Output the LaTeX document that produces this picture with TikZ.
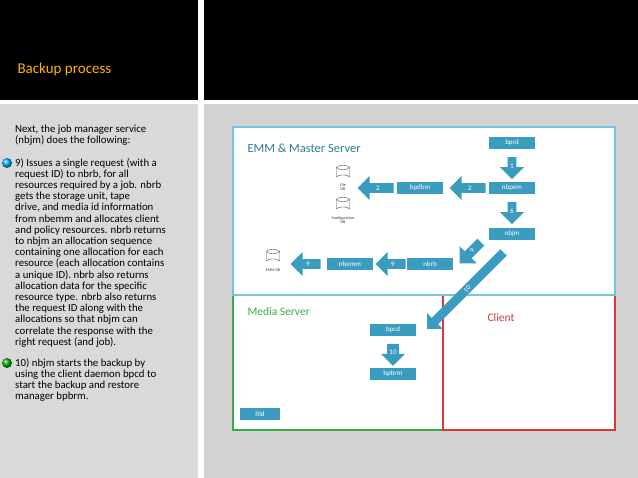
\documentclass[tikz,border=0pt]{standalone}
\usepackage{fontspec}
\setmainfont{Carlito}
\usetikzlibrary{shapes.arrows,shapes.geometric}
\definecolor{teal1}{HTML}{3A9DC0}
\definecolor{emmb}{HTML}{7CC3DC}
\definecolor{msg}{HTML}{3DAA48}
\definecolor{clr}{HTML}{D43A3A}
\newcommand{\dbcyl}[2]{%
 \fill[white] (#1-6.5,#2-4.5) rectangle (#1+6.5,#2+5);
 \draw[gray!60!black,line width=0.4] (#1-6.5,#2-4.5) -- (#1-6.5,#2+5) arc[start angle=180,end angle=360,x radius=6.5,y radius=2] -- (#1+6.5,#2-4.5);
 \draw[gray!60!black,fill=white,line width=0.4] (#1,#2-4.5) ellipse[x radius=6.5,y radius=2];}
\begin{document}
\begin{tikzpicture}[x=1pt,y=-1pt,
 proc/.style={fill=teal1,text=white,minimum width=46,minimum height=12,inner sep=0,font=\fontsize{7}{7}\selectfont},
 barrow/.style={single arrow,fill=teal1,text=white,minimum height=26,minimum width=24,single arrow head extend=5,inner sep=1,font=\fontsize{7}{7}\selectfont},
 dbl/.style={font=\fontsize{4}{4}\selectfont,align=center,text=gray!40!black},
 body/.style={font=\fontsize{10.8}{11.2}\selectfont,align=left,anchor=north west,inner sep=0}]
\useasboundingbox (0,0) rectangle (638,478);
\fill[black] (0,0) rectangle (638,100);
\fill[white] (198,0) rectangle (204,478);
\fill[white] (0,100) rectangle (638,104);
\fill[gray!30] (0,104) rectangle (198,478);
\fill[gray!35] (204,104) rectangle (638,478);
\node[anchor=west,text=orange!60!yellow,font=\fontsize{15}{15}\selectfont] (title) at (14,70) {Backup process};
\node[body] (t1) at (15,125) {Next, the job manager service\\(nbjm) does the following:};
\node[body] (t2) at (15,158) {9) Issues a single request (with a\\request ID) to nbrb, for all\\resources required by a job. nbrb\\gets the storage unit, tape\\drive, and media id information\\from nbemm and allocates client\\and policy resources. nbrb returns\\to nbjm an allocation sequence\\containing one allocation for each\\resource (each allocation contains\\a unique ID). nbrb also returns\\allocation data for the specific\\resource type. nbrb also returns\\the request ID along with the\\allocations so that nbjm can\\correlate the response with the\\right request (and job).};
\node[body] (t3) at (15,358) {10) nbjm starts the backup by\\using the client daemon bpcd to\\start the backup and restore\\manager bpbrm.};
\shade[ball color=cyan!70!blue] (7,163) circle (5);
\shade[ball color=green!70!black] (7,363) circle (5);
% boxes
\fill[white] (233,127) rectangle (615,430);
\draw[msg,line width=1.5] (233,295) rectangle (443,430);
\draw[clr,line width=1.5] (443,295) rectangle (615,430);
\draw[emmb,line width=2] (233,127) rectangle (615,295);
\node[anchor=west,text=teal1!80!black,font=\fontsize{12.5}{12}\selectfont] (emm) at (244,148) {EMM \& Master Server};
\node[anchor=west,text=msg,font=\fontsize{11.5}{11}\selectfont] (ms) at (244,312) {Media Server};
\node[anchor=west,text=clr,font=\fontsize{11.5}{11}\selectfont] (cl) at (484,318) {Client};
\node[proc] (bprd) at (512,143) {bprd};
\node[proc] (nbpem) at (512,188) {nbpem};
\node[proc] (nbjm) at (512,234) {nbjm};
\node[proc] (bpdbm) at (420,188) {bpdbm};
\node[proc] (nbrb) at (430,264) {nbrb};
\node[proc] (nbemm) at (350,264) {nbemm};
\node[proc] (bpcd) at (393,330) {bpcd};
\node[proc] (bpbrm) at (393,374) {bpbrm};
\node[proc,minimum width=40] (ltid) at (260,414) {ltid};
\dbcyl{343}{172}
\node[dbl] (fdbl) at (343,187) {File\\DB};
\dbcyl{343}{204}
\node[dbl] (cdbl) at (343,220) {Configuration\\DB};
\dbcyl{273}{256}
\node[dbl] (edbl) at (273,270) {EMM DB};
\node[barrow,shape border rotate=270,minimum height=22] (a1) at (512,166) {1};
\node[barrow,shape border rotate=270,minimum height=22] (a6) at (512,211) {6};
\node[barrow,shape border rotate=180,minimum height=36] (a2a) at (470,188) {2};
\node[barrow,shape border rotate=180,minimum height=36] (a2b) at (378,188) {2};
\node[barrow,shape border rotate=180,minimum height=30] (a9a) at (393,264) {9};
\node[barrow,shape border rotate=180,minimum height=30] (a9b) at (308,264) {9};
\node[barrow,shape border rotate=180,rotate=45,minimum height=30] (a9c) at (472,251) {9};
\node[barrow,shape border rotate=180,rotate=45,minimum height=108,minimum width=22] (a10) at (467,289) {10};
\node[barrow,shape border rotate=270,minimum height=22] (a10b) at (393,352) {10};
\end{tikzpicture}
\end{document}
